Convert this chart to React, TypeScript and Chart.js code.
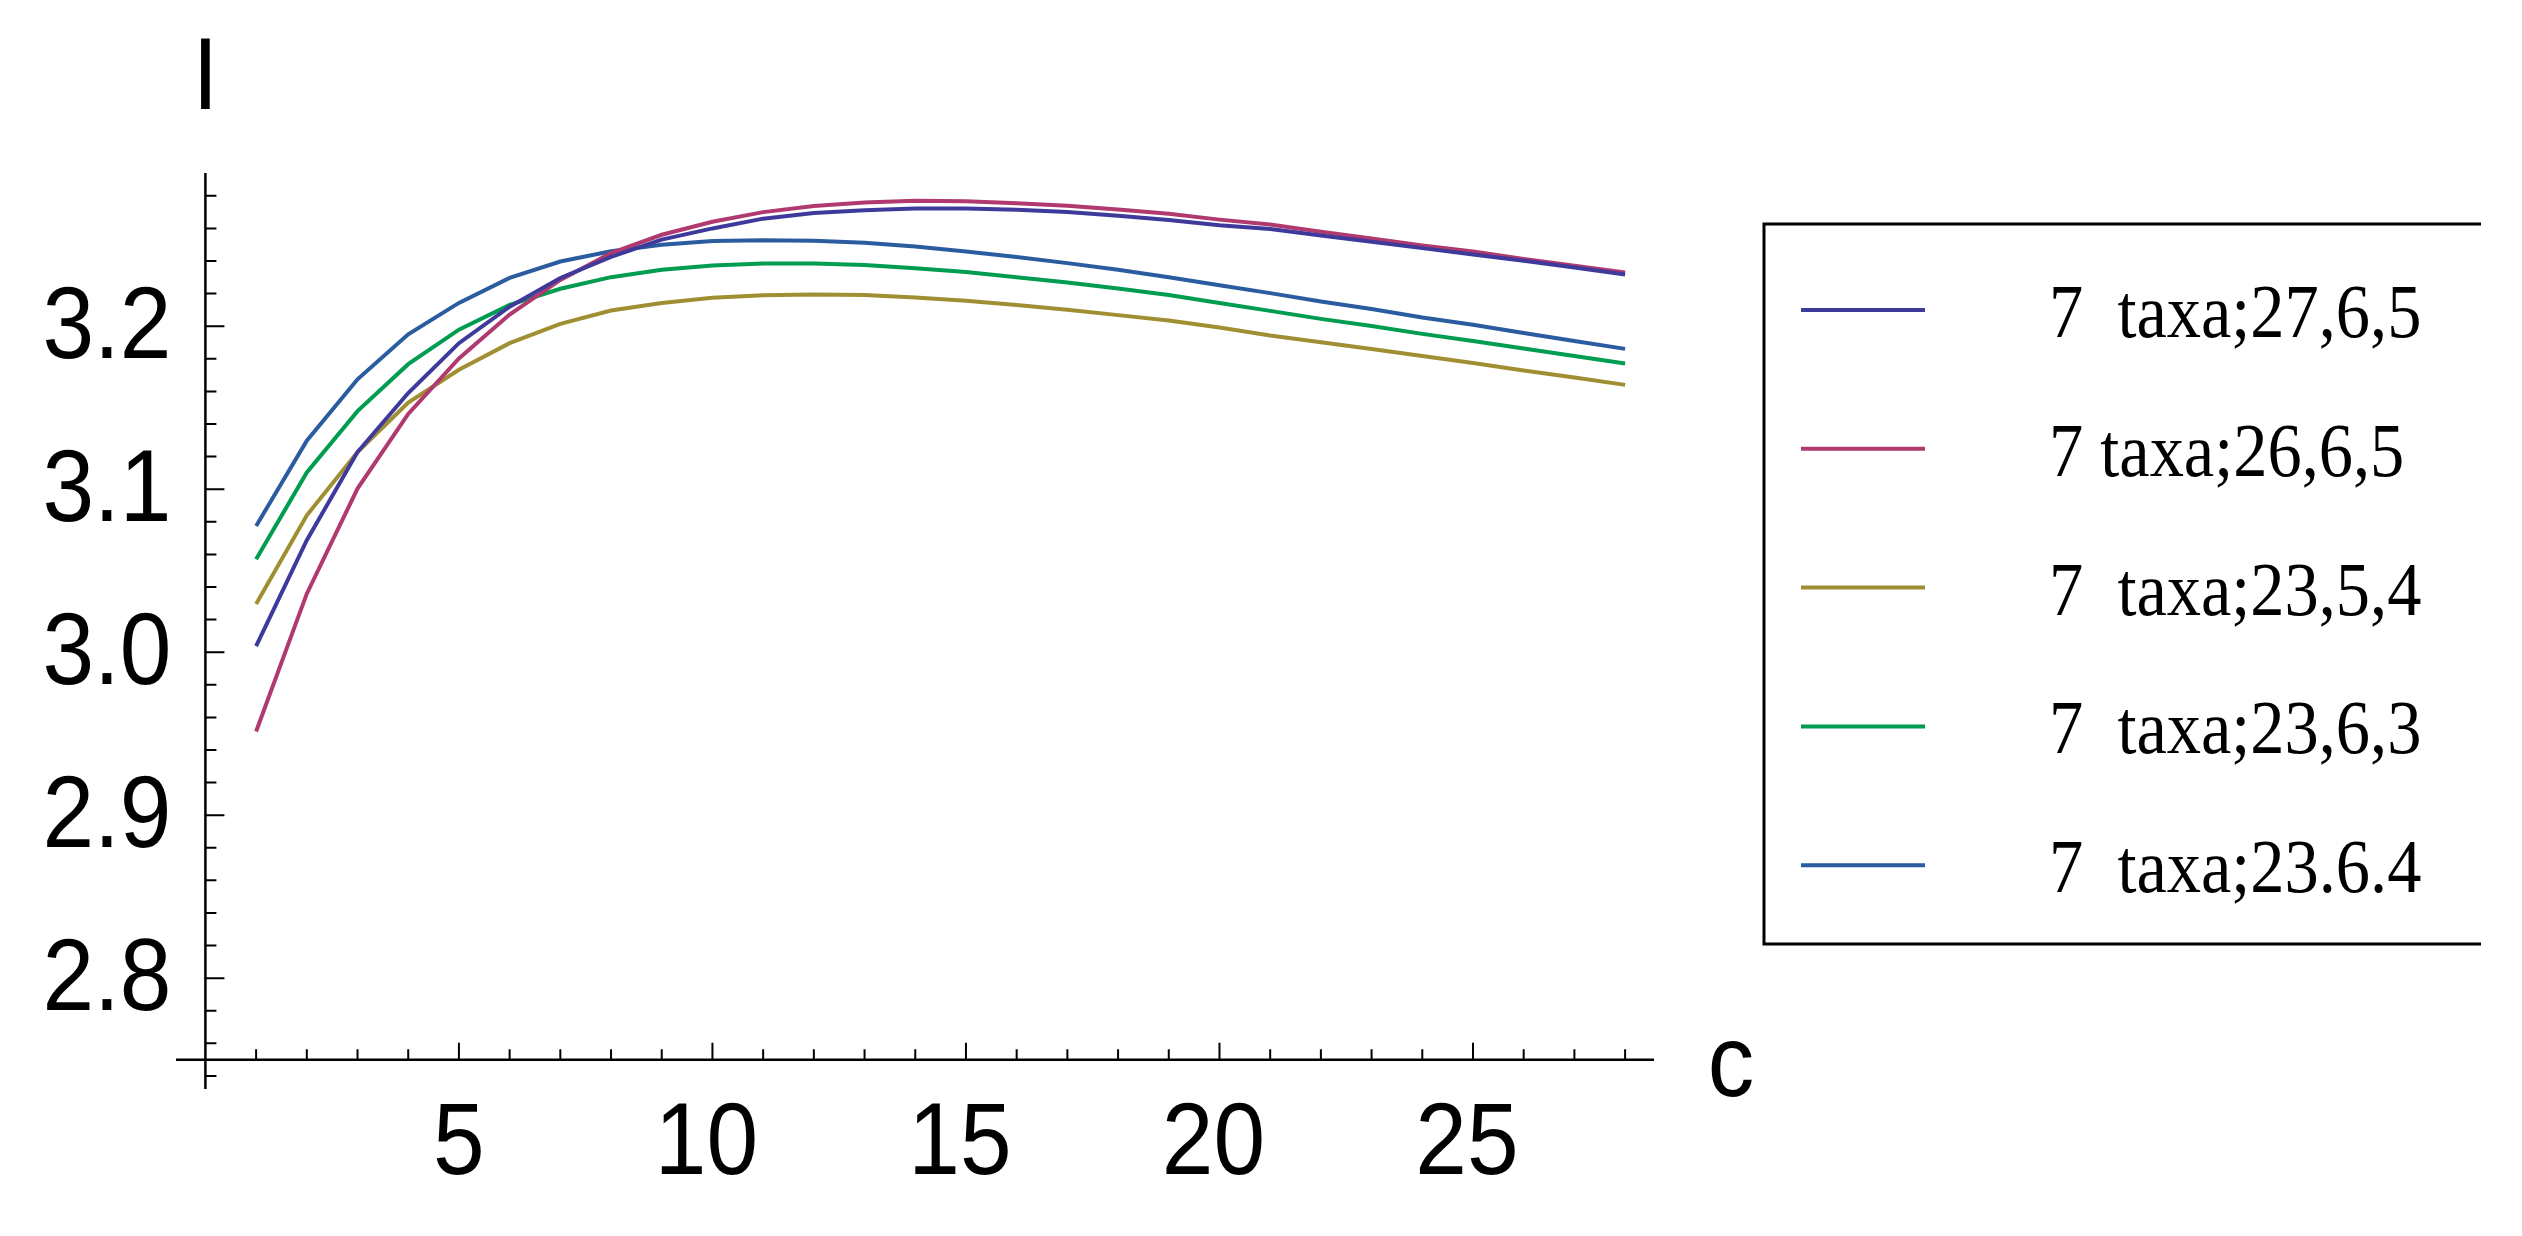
import React, { useEffect, useRef } from "react";
import { Chart, registerables } from "chart.js";

Chart.register(...registerables);

const cValues = [1, 2, 3, 4, 5, 6, 7, 8, 9, 10, 11, 12, 13, 14, 15, 16, 17, 18, 19, 20, 21, 22, 23, 24, 25, 26, 27, 28];

const series27_6_5 = [3.0037, 3.0687, 3.1228, 3.159, 3.1896, 3.212, 3.2296, 3.2425, 3.2531, 3.26, 3.266, 3.2694, 3.2712, 3.2722, 3.2722, 3.2714, 3.27, 3.2677, 3.2651, 3.262, 3.2596, 3.2557, 3.2518, 3.2479, 3.244, 3.2401, 3.236, 3.2317];
const series26_6_5 = [2.9513, 3.0359, 3.1004, 3.1462, 3.1802, 3.2072, 3.2284, 3.2448, 3.2561, 3.2641, 3.27, 3.2738, 3.2759, 3.2769, 3.2767, 3.2755, 3.2739, 3.2716, 3.269, 3.2654, 3.2624, 3.2579, 3.2538, 3.2495, 3.2458, 3.2413, 3.2371, 3.233];
const series23_5_4 = [3.0295, 3.084, 3.1228, 3.1532, 3.1733, 3.1896, 3.2014, 3.2096, 3.2143, 3.2174, 3.219, 3.2194, 3.2191, 3.2176, 3.2156, 3.213, 3.2101, 3.2068, 3.2035, 3.1992, 3.1943, 3.1902, 3.186, 3.1817, 3.1774, 3.1728, 3.1685, 3.164];
const series23_6_3 = [3.057, 3.1103, 3.1479, 3.1767, 3.1979, 3.2131, 3.223, 3.2301, 3.2347, 3.2373, 3.2385, 3.2385, 3.2375, 3.2356, 3.2332, 3.2301, 3.2268, 3.2231, 3.2191, 3.2143, 3.2094, 3.2045, 3.2001, 3.1953, 3.1909, 3.1863, 3.1817, 3.1771];
const series23_6_4 = [3.0774, 3.1298, 3.1674, 3.195, 3.2143, 3.2296, 3.2397, 3.246, 3.25, 3.2523, 3.2528, 3.2525, 3.2512, 3.2489, 3.2458, 3.2424, 3.2387, 3.2346, 3.2301, 3.2251, 3.2203, 3.2152, 3.2105, 3.2053, 3.2009, 3.1958, 3.1909, 3.1861];

const seriesLabels = ["7  taxa;27,6,5", "7 taxa;26,6,5", "7  taxa;23,5,4", "7  taxa;23,6,3", "7  taxa;23.6.4"];
const seriesColors = ["#3d3a9c", "#b0396f", "#a08f32", "#009c50", "#2a5c9f"];

const yTickValues = [2.8, 2.9, 3.0, 3.1, 3.2];
const yTickLabels = ["2.8", "2.9", "3.0", "3.1", "3.2"];
const xTickValues = [5, 10, 15, 20, 25];
const xTickLabels = ["5", "10", "15", "20", "25"];
const xAxisTitle = "c";
const yAxisTitle = "I";

const X_MIN = -0.58;
const X_MAX = 28.57;
const Y_MIN = 2.732;
const Y_MAX = 3.294;
const X_AXIS_AT = 2.75;
const Y_AXIS_AT = 0;

const axesPlugin = {
  id: "mmaAxes",
  afterDraw(chart: any) {
    const ctx = chart.ctx as CanvasRenderingContext2D;
    const xs = chart.scales.x;
    const ys = chart.scales.y;
    const area = chart.chartArea;
    const x0 = xs.getPixelForValue(Y_AXIS_AT);
    const y0 = ys.getPixelForValue(X_AXIS_AT);
    ctx.save();
    ctx.strokeStyle = "#000";
    ctx.fillStyle = "#000";
    ctx.lineWidth = 2.5;
    ctx.lineCap = "butt";
    // axes lines
    ctx.beginPath();
    ctx.moveTo(x0, area.top);
    ctx.lineTo(x0, area.bottom);
    ctx.moveTo(area.left, y0);
    ctx.lineTo(area.right, y0);
    ctx.stroke();
    // y ticks (minor every 0.02)
    ctx.lineWidth = 2;
    ctx.beginPath();
    for (let k = 137; k <= 164; k++) {
      const v = k / 50;
      const py = ys.getPixelForValue(v);
      const major = k % 5 === 0;
      ctx.moveTo(x0, py);
      ctx.lineTo(x0 + (major ? 19 : 11), py);
    }
    // x ticks (minor every 1)
    for (let k = 1; k <= 28; k++) {
      const px = xs.getPixelForValue(k);
      const major = k % 5 === 0;
      ctx.moveTo(px, y0);
      ctx.lineTo(px, y0 - (major ? 17 : 10.5));
    }
    ctx.stroke();

    const drawText = (text: string, x: number, y: number, align: CanvasTextAlign) => {
      ctx.save();
      ctx.translate(x, y);
      ctx.scale(0.91, 1);
      ctx.textAlign = align;
      ctx.textBaseline = "alphabetic";
      ctx.fillText(text, 0, 0);
      ctx.restore();
    };
    ctx.font = "102px 'Liberation Sans', Arial, sans-serif";
    yTickValues.forEach((v, i) => {
      const py = ys.getPixelForValue(v);
      drawText(yTickLabels[i], x0 - 34, py + 31.5, "right");
    });
    xTickValues.forEach((v, i) => {
      const px = xs.getPixelForValue(v);
      const lbl = xTickLabels[i];
      drawText(lbl, px - (lbl.length > 1 ? 6 : 0), y0 + 114, "center");
    });
    drawText(yAxisTitle, x0, 109, "center");
    drawText(xAxisTitle, area.right + 77, y0 + 36, "center");
    ctx.restore();
  },
};

const legendPlugin = {
  id: "mmaLegend",
  afterDraw(chart: any) {
    const ctx = chart.ctx as CanvasRenderingContext2D;
    const left = 1764;
    const top = 224;
    const bottom = 944;
    const right = 2481;
    ctx.save();
    ctx.strokeStyle = "#000";
    ctx.lineWidth = 3;
    ctx.beginPath();
    ctx.moveTo(right, top);
    ctx.lineTo(left, top);
    ctx.lineTo(left, bottom);
    ctx.lineTo(right, bottom);
    ctx.stroke();
    const ds = chart.data.datasets;
    ds.forEach((d: any, i: number) => {
      const y = 310 + i * 138.8;
      ctx.strokeStyle = d.borderColor;
      ctx.lineWidth = 4;
      ctx.beginPath();
      ctx.moveTo(1801, y);
      ctx.lineTo(1925, y);
      ctx.stroke();
      ctx.save();
      ctx.translate(2049, y + 27);
      ctx.scale(0.9, 1);
      ctx.fillStyle = "#000";
      ctx.font = "76px 'Liberation Serif', 'Times New Roman', serif";
      ctx.textAlign = "left";
      ctx.textBaseline = "alphabetic";
      ctx.fillText(d.label, 0, 0);
      ctx.restore();
    });
    ctx.restore();
  },
};

export default function App() {
  const canvasRef = useRef<HTMLCanvasElement | null>(null);

  useEffect(() => {
    const canvas = canvasRef.current;
    if (!canvas) return;
    const allSeries = [series27_6_5, series26_6_5, series23_5_4, series23_6_3, series23_6_4];
    const chart = new Chart(canvas, {
      type: "line",
      data: {
        datasets: allSeries.map((s, i) => ({
          label: seriesLabels[i],
          data: cValues.map((c, j) => ({ x: c, y: s[j] })),
          borderColor: seriesColors[i],
          backgroundColor: seriesColors[i],
          borderWidth: 4,
          pointRadius: 0,
          tension: 0,
          fill: false,
        })),
      },
      options: {
        animation: false,
        responsive: false,
        devicePixelRatio: 1,
        layout: { padding: { left: 176, right: 868, top: 173, bottom: 147 } },
        plugins: { legend: { display: false }, tooltip: { enabled: false } },
        scales: {
          x: { type: "linear", min: X_MIN, max: X_MAX, display: false },
          y: { type: "linear", min: Y_MIN, max: Y_MAX, display: false },
        },
      },
      plugins: [axesPlugin, legendPlugin],
    });
    return () => chart.destroy();
  }, []);

  return (
    <div style={{ position: "absolute", left: 0, top: 0, width: 2522, height: 1236, background: "#fff" }}>
      <canvas ref={canvasRef} width={2522} height={1236} style={{ width: 2522, height: 1236 }} />
    </div>
  );
}
